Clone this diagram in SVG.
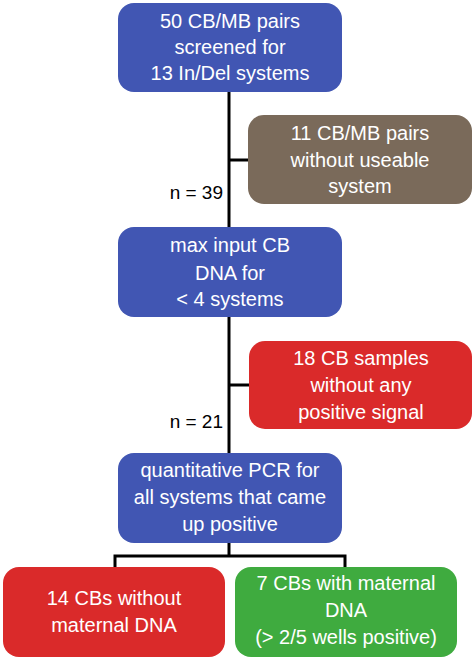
<svg xmlns="http://www.w3.org/2000/svg" width="474" height="659" viewBox="0 0 474 659">
<style>
.box{stroke:none}
.blue{fill:#4156b3}
.brown{fill:#7a6a5a}
.red{fill:#da2a2a}
.green{fill:#3fab3f}
.t{font-family:"Liberation Sans",Arial,sans-serif;font-size:20px;fill:#ffffff;text-anchor:middle}
.n{font-family:"Liberation Sans",Arial,sans-serif;font-size:19px;fill:#000000;text-anchor:end}
.c{stroke:#000000;stroke-width:3;fill:none}
</style>
<rect width="474" height="659" fill="#ffffff"/>
<g id="connectors">
<line class="c" x1="229" y1="92" x2="229" y2="228"/>
<line class="c" x1="229" y1="160" x2="249" y2="160"/>
<line class="c" x1="229" y1="316" x2="229" y2="454"/>
<line class="c" x1="229" y1="385" x2="250" y2="385"/>
<line class="c" x1="229" y1="542" x2="229" y2="556"/>
<polyline class="c" points="115,568 115,556 345,556 345,568"/>
</g>
<g id="node1">
<rect class="box blue" x="118" y="3" width="224" height="89" rx="16"/>
<text class="t" x="230" y="28">50 CB/MB pairs</text>
<text class="t" x="230" y="54">screened for</text>
<text class="t" x="230" y="80">13 In/Del systems</text>
</g>
<g id="node2">
<rect class="box brown" x="248" y="115" width="224" height="89" rx="16"/>
<text class="t" x="360" y="140">11 CB/MB pairs</text>
<text class="t" x="360" y="167">without useable</text>
<text class="t" x="360" y="193">system</text>
</g>
<g id="label39">
<text class="n" x="223" y="199">n = 39</text>
</g>
<g id="node3">
<rect class="box blue" x="118" y="227" width="224" height="90" rx="16"/>
<text class="t" x="230" y="252">max input CB</text>
<text class="t" x="230" y="280">DNA for</text>
<text class="t" x="230" y="306">&lt; 4 systems</text>
</g>
<g id="node4">
<rect class="box red" x="249" y="341" width="223" height="88" rx="16"/>
<text class="t" x="361" y="365">18 CB samples</text>
<text class="t" x="361" y="392">without any</text>
<text class="t" x="361" y="419">positive signal</text>
</g>
<g id="label21">
<text class="n" x="223" y="428">n = 21</text>
</g>
<g id="node5">
<rect class="box blue" x="118" y="453" width="224" height="90" rx="16"/>
<text class="t" x="230" y="477">quantitative PCR for</text>
<text class="t" x="230" y="504">all systems that came</text>
<text class="t" x="230" y="531">up positive</text>
</g>
<g id="node6">
<rect class="box red" x="3" y="567" width="222" height="90" rx="16"/>
<text class="t" x="114" y="605">14 CBs without</text>
<text class="t" x="114" y="632">maternal DNA</text>
</g>
<g id="node7">
<rect class="box green" x="235" y="567" width="222" height="90" rx="16"/>
<text class="t" x="346" y="590">7 CBs with maternal</text>
<text class="t" x="346" y="617">DNA</text>
<text class="t" x="346" y="644">(&gt; 2/5 wells positive)</text>
</g>
</svg>
